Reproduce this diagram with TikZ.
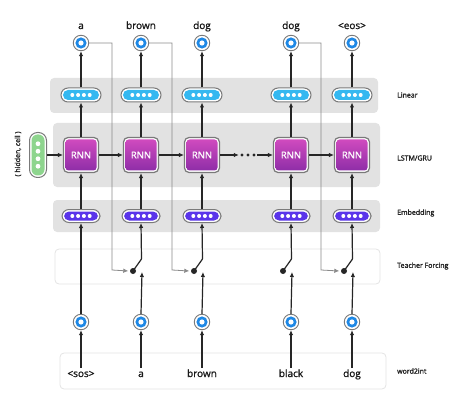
\documentclass[tikz,border=0pt]{standalone}
\usepackage{fontspec}
\setmainfont{Open Sans}
\newfontfamily\wordfont[FakeBold=1.2]{Open Sans}
\newfontfamily\labfont[FakeBold=2.2]{Open Sans}
\newfontfamily\rnnfont[FakeBold=1.2]{Open Sans}
\usetikzlibrary{arrows.meta,calc}
\definecolor{linecol}{HTML}{262626}
\definecolor{fbgray}{HTML}{8A8A8A}
\definecolor{ringgray}{HTML}{7A7A7A}
\definecolor{tokblue}{HTML}{1E88E5}
\definecolor{linblue}{HTML}{35B8F0}
\definecolor{embviolet}{HTML}{5A35EA}
\definecolor{rnntop}{HTML}{D44CC0}
\definecolor{rnnbot}{HTML}{8A2CA6}
\definecolor{hidgreen}{HTML}{8ED58E}
\definecolor{bandgray}{HTML}{E2E2E2}
\definecolor{bandline}{HTML}{E4E4E4}
\begin{document}
\begin{tikzpicture}[x=1pt,y=-1pt,
  band/.style={fill=bandgray, draw=none, rounded corners=4pt},
  wband/.style={fill=white, draw=bandline, line width=0.8pt, rounded corners=4pt},
  tok/.style={circle, minimum size=15.5pt, inner sep=0pt, draw=ringgray, line width=0.9pt, fill=white,
    path picture={\fill[tokblue] (path picture bounding box.center) circle[radius=5.6pt];
                  \fill[white] (path picture bounding box.center) circle[radius=2.6pt];}},
  pillbase/.style={rectangle, rounded corners=7pt, minimum width=40pt, minimum height=14pt, inner sep=0pt,
    draw=ringgray, line width=1pt, fill=white},
  linpill/.style={pillbase, path picture={
    \fill[linblue, rounded corners=5pt] ($(path picture bounding box.south west)+(2pt,2pt)$) rectangle ($(path picture bounding box.north east)-(2pt,2pt)$);
    \foreach \i in {-1.5,-0.5,0.5,1.5} \fill[white] ($(path picture bounding box.center)+(\i*5.8pt,0pt)$) circle[radius=2pt];}},
  embpill/.style={pillbase, minimum width=38pt, minimum height=13pt, path picture={
    \fill[embviolet, rounded corners=5pt] ($(path picture bounding box.south west)+(2pt,2pt)$) rectangle ($(path picture bounding box.north east)-(2pt,2pt)$);
    \foreach \i in {-1.5,-0.5,0.5,1.5} \fill[white] ($(path picture bounding box.center)+(\i*5.8pt,0pt)$) circle[radius=2pt];}},
  hidpill/.style={rectangle, rounded corners=8pt, minimum width=17pt, minimum height=45pt, inner sep=0pt,
    draw=ringgray, line width=1pt, fill=white, path picture={
    \fill[hidgreen, rounded corners=6pt] ($(path picture bounding box.south west)+(2pt,2pt)$) rectangle ($(path picture bounding box.north east)-(2pt,2pt)$);
    \foreach \i in {-1.5,-0.5,0.5,1.5} \fill[white] ($(path picture bounding box.center)+(0pt,\i*7.5pt)$) circle[radius=2.4pt];}},
  rnn/.style={rectangle, rounded corners=4.5pt, minimum size=35pt, inner sep=0pt, draw=ringgray, line width=1.2pt,
    fill=white, text=white, font=\rnnfont\fontsize{9.5}{11}\selectfont, path picture={
    \shade[top color=rnntop, bottom color=rnnbot, rounded corners=3pt] ($(path picture bounding box.south west)+(2pt,2pt)$) rectangle ($(path picture bounding box.north east)-(2pt,2pt)$);}},
  word/.style={font=\wordfont\fontsize{10}{12}\selectfont, text=black!90, inner sep=1pt, anchor=base, text height=8pt},
  lab/.style={font=\labfont\fontsize{7}{9}\selectfont, text=linecol, anchor=west, inner sep=0pt},
  flow/.style={draw=linecol, line width=1.2pt, -{Latex[length=5pt,width=4.5pt]}},
  lever/.style={draw=linecol, line width=1.2pt},
  fb/.style={draw=fbgray, line width=0.8pt, -{Latex[length=5pt,width=4.5pt]}},
  contact/.style={circle, fill=linecol, minimum size=6pt, inner sep=0pt}
]
\useasboundingbox (0,0) rectangle (474,401);
% bands
\fill[band] (50,78) rectangle (378,113);
\fill[band] (53,123) rectangle (380,187);
\fill[band] (53,200) rectangle (380,232);
\draw[wband] (55,249) rectangle (380,284);
\draw[wband] (60,353) rectangle (386,389);
% right labels
\node[lab] (lLin) at (397,95) {Linear};
\node[lab] (lLstm) at (397,158) {LSTM/GRU};
\node[lab] (lEmb) at (397,213) {Embedding};
\node[lab] (lTf) at (397,266) {Teacher Forcing};
\node[lab] (lW2i) at (397,371) {word2int};
% hidden state
\node[hidpill] (h) at (38,155) {};
\node[rotate=90, font=\labfont\fontsize{7}{9}\selectfont, text=linecol] (hl) at (18,154) {( hidden, cell )};
% columns
\foreach \n/\x/\top/\bot in {1/81/a/<sos>, 2/141/brown/a, 3/202/dog/brown, 4/291/dog/black, 5/352/<eos>/dog}{
  \node[word] (t\n) at (\x,29) {\top};
  \node[tok] (o\n) at (\x,43) {};
  \node[linpill] (l\n) at (\x,95) {};
  \node[rnn] (r\n) at (\x,155) {RNN};
  \node[embpill] (e\n) at (\x,216) {};
  \node[tok] (i\n) at (\x,322) {};
  \node[word] (w\n) at (\x,377) {\bot};
  \draw[flow] (l\n.north) -- (o\n.south);
  \draw[flow] (r\n.north) -- (l\n.south);
  \draw[flow] (e\n.north) -- (r\n.south);
  \draw[flow] (w\n.north) -- (i\n.south);
}
% column 1: no switch
\draw[flow] (i1.north) -- (e1.south);
% switches
\foreach \n/\x in {2/141, 3/202, 4/291, 5/352}{
  \node[contact] (d\n) at (\x-8,271) {};
  \coordinate (k\n) at (\x+0.5,259);
  \coordinate (c\n) at (\x+1,272);
  \draw[lever] (d\n.center) -- (k\n);
  \draw[flow] (k\n) -- (e\n.south);
  \draw[flow] (i\n.north) -- (c\n);
}
% feedback
\coordinate (f1) at (112,270);
\coordinate (f2) at (172,270);
\coordinate (f4) at (321,270);
\draw[fb] (o1.east) -| (f1) -- ([xshift=-1.5pt]d2.west);
\draw[fb] (o2.east) -| (f2) -- ([xshift=-1.5pt]d3.west);
\draw[fb] (o4.east) -| (f4) -- ([xshift=-1.5pt]d5.west);
% recurrent connections
\node[minimum width=14pt, minimum height=4pt, inner sep=0pt] (dots) at (248,155) {};
\fill[linecol] (242,155) circle[radius=1.6pt] (248,155) circle[radius=1.6pt] (254,155) circle[radius=1.6pt];
\draw[flow] (h.east) -- (r1.west);
\draw[flow] (r1.east) -- (r2.west);
\draw[flow] (r2.east) -- (r3.west);
\draw[flow] (r3.east) -- ([xshift=-2pt]dots.west);
\draw[flow] ([xshift=2pt]dots.east) -- (r4.west);
\draw[flow] (r4.east) -- (r5.west);
\end{tikzpicture}
\end{document}
